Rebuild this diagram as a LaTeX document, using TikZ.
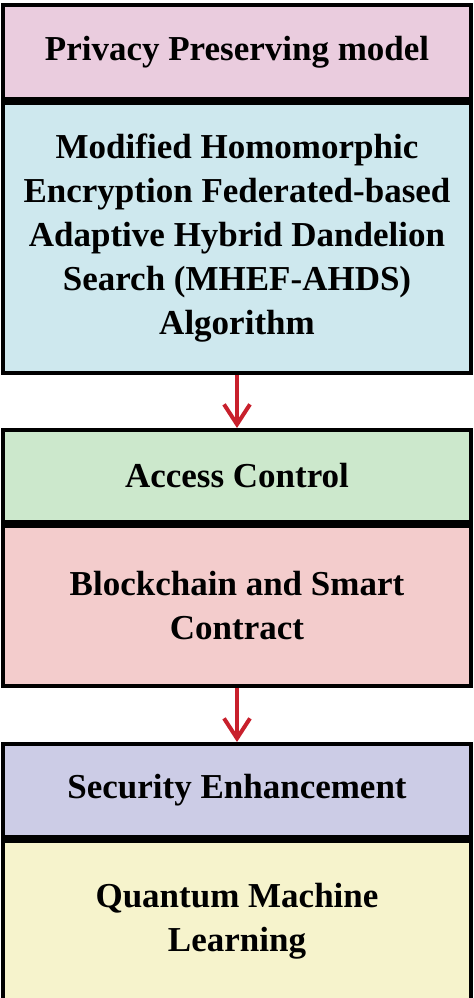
\documentclass[tikz,border=0pt]{standalone}
\usepackage{fontspec}
\setmainfont{Liberation Serif}
\usepackage{xcolor}
\usetikzlibrary{arrows.meta,positioning}

\definecolor{privpink}{RGB}{234,204,222}
\definecolor{algoblue}{RGB}{206,232,238}
\definecolor{accgreen}{RGB}{204,232,204}
\definecolor{chainred}{RGB}{243,204,204}
\definecolor{seclav}{RGB}{204,204,230}
\definecolor{qmlyellow}{RGB}{246,243,204}
\definecolor{arrowred}{RGB}{200,32,44}

\tikzset{
  block/.style={draw=black, line width=2pt, minimum width=234pt, inner sep=0pt,
    align=center, font=\fontsize{17.5}{22}\selectfont\bfseries},
  flow/.style={draw=arrowred, line width=2pt, -{Straight Barb[length=10pt,width=13pt,line width=2pt]}}
}

\begin{document}
\begin{tikzpicture}
\useasboundingbox (0,0) rectangle (237pt,-499pt);

\node[block, fill=privpink, minimum height=47pt, anchor=north] (priv) at (118.5pt,-1.5pt) {Privacy Preserving model};
\node[block, fill=algoblue, minimum height=135pt, below=0pt of priv] (algo)
  {Modified Homomorphic\\Encryption Federated-based\\Adaptive Hybrid Dandelion\\Search (MHEF-AHDS)\\Algorithm};

\node[block, fill=accgreen, minimum height=46pt, anchor=north] (access) at (118.5pt,-214pt) {Access Control};
\node[block, fill=chainred, minimum height=80pt, below=0pt of access] (chain)
  {Blockchain and Smart\\Contract};

\node[block, fill=seclav, minimum height=46.5pt, anchor=north] (sec) at (118.5pt,-371pt) {Security Enhancement};
\node[block, fill=qmlyellow, minimum height=80pt, below=0pt of sec] (qml)
  {Quantum Machine\\Learning};

\draw[flow] (algo.south) -- (access.north);
\draw[flow] (chain.south) -- (sec.north);

\end{tikzpicture}
\end{document}
